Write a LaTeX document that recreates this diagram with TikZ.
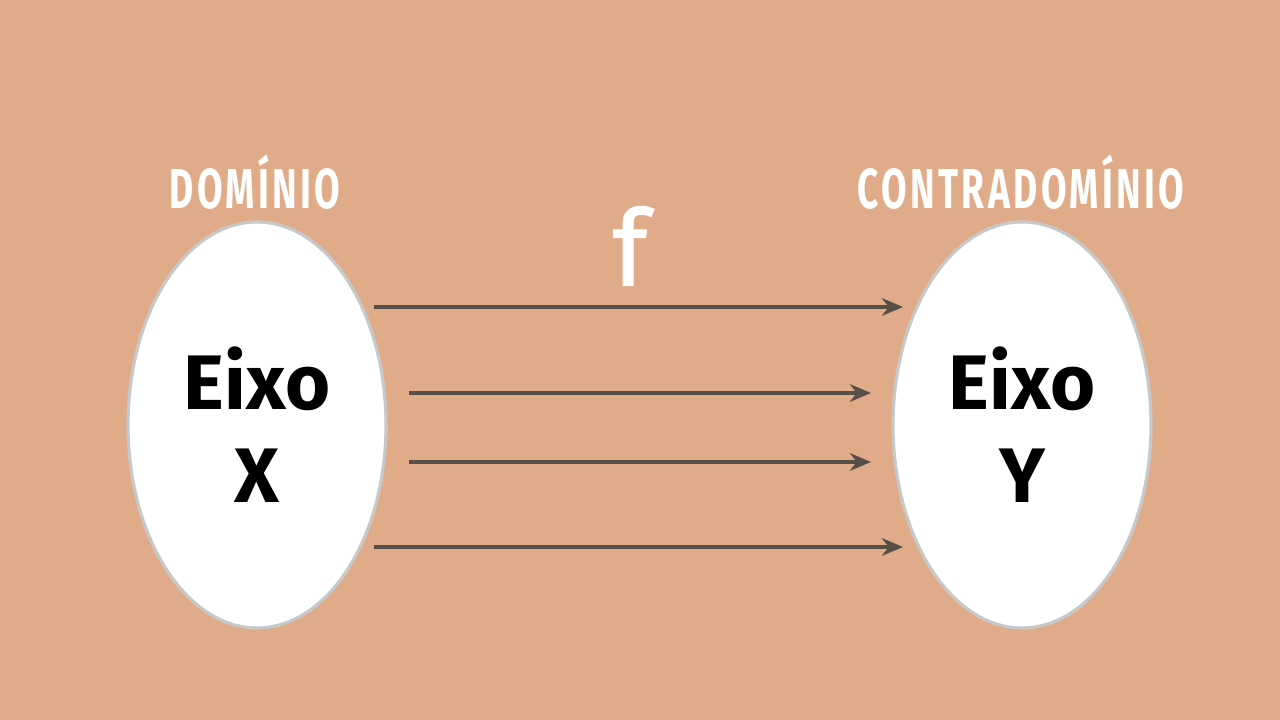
\documentclass[tikz,border=0pt]{standalone}
\usepackage{fontspec}
\setmainfont{Fira Sans}
\newfontfamily\capsfont[FakeStretch=0.66,LetterSpace=6]{Fira Sans}
\newfontfamily\ffont[FakeBold=1.2]{Fira Sans}
\usepackage{xcolor}
\definecolor{fundo}{HTML}{E0AB88}
\definecolor{borda}{HTML}{C8C8C8}
\definecolor{seta}{HTML}{574E48}
\usepackage{tikz}
\usetikzlibrary{arrows.meta}
\usetikzlibrary{shapes.geometric}

\begin{document}
\begin{tikzpicture}[x=1cm, y=1cm,
    conjunto/.style={ellipse, draw=borda, line width=0.9pt, fill=white,
      minimum width=2.58cm, minimum height=4.06cm, inner sep=0pt,
      align=center, font=\fontsize{22}{26.5}\selectfont\bfseries},
    rotulo/.style={text=white, font=\capsfont\fontsize{16}{18}\selectfont\bfseries},
    mapa/.style={-{Stealth[length=6pt, width=5pt]}, draw=seta, line width=1.3pt}]

    \fill [fundo] (0, 0) rectangle (12.8, 7.2);
    \useasboundingbox (0, 0) rectangle (12.8, 7.2);

    \node [conjunto] (dominio) at (2.57, 2.95) {Eixo\\X};
    \node [conjunto] (contra) at (10.22, 2.95) {Eixo\\Y};
    \node [rotulo] (rdominio) at (2.55, 5.38) {DOMÍNIO};
    \node [rotulo] (rcontra) at (10.21, 5.38) {CONTRADOMÍNIO};
    \node [text=white, font=\ffont\fontsize{30}{32}\selectfont] (funcao) at (6.30, 4.74) {f};

    \coordinate (a1) at (3.74, 4.13);  \coordinate (b1) at (9.03, 4.13);
    \coordinate (a2) at (4.09, 3.27);  \coordinate (b2) at (8.71, 3.27);
    \coordinate (a3) at (4.09, 2.58);  \coordinate (b3) at (8.71, 2.58);
    \coordinate (a4) at (3.74, 1.73);  \coordinate (b4) at (9.03, 1.73);
    \foreach \i in {1,...,4}
      \draw [mapa] (a\i) -- (b\i);

  \end{tikzpicture}
\end{document}
